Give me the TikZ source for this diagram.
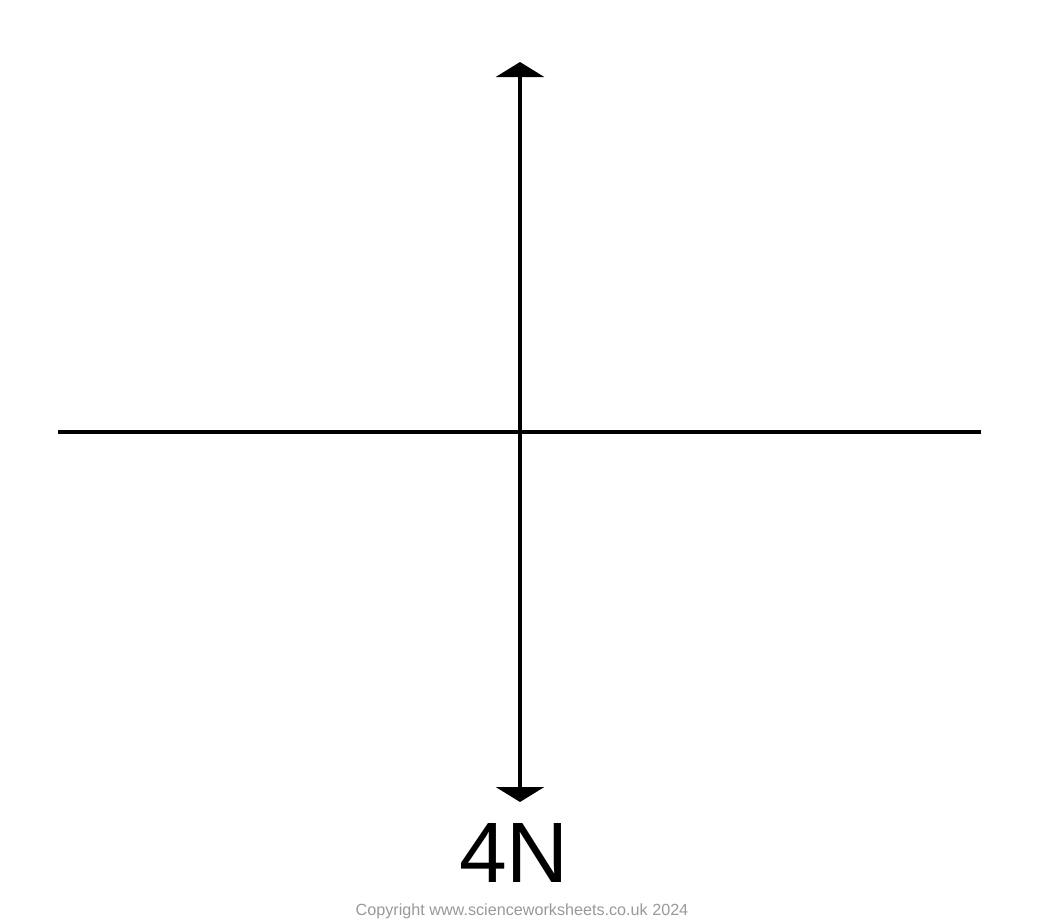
\documentclass[tikz,border=0pt]{standalone}
\usepackage{fontspec}
\setmainfont{Liberation Sans}
\usetikzlibrary{arrows.meta}
\newcommand{\forceArrow}{{Triangle[width=1.2cm, length=0.375cm]}}

\begin{document}
\begin{tikzpicture}[x=0.025cm, y=-0.025cm]
	\useasboundingbox (0,0) rectangle (1045,921);

	\coordinate (centre)	at (520,432);
	\coordinate (left)	at (58,432);
	\coordinate (right)	at (981,432);
	\coordinate (top)	at (520,62);
	\coordinate (bottom)	at (520,802);

	% surface line
	\draw[line width=2.9pt]	(left) -- (right);
	% forces
	\draw[line width=2.4pt, -\forceArrow]	(centre) -- (top);
	\draw[line width=2.4pt, -\forceArrow]	(centre) -- (bottom);

	\node[anchor=base, inner sep=0pt, font=\fontsize{61}{61}\selectfont]	(label) at (514,882) {4N};
	\node[anchor=base, inner sep=0pt, text=gray!80, font=\fontsize{11.5}{13}\selectfont]	(copyright) at (522,915) {Copyright www.scienceworksheets.co.uk 2024};
\end{tikzpicture}
\end{document}
